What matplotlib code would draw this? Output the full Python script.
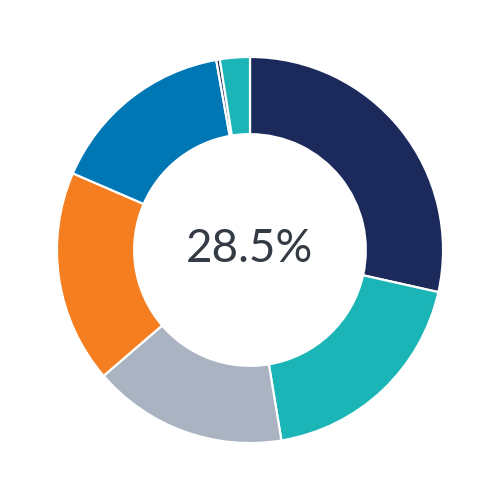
import matplotlib
matplotlib.use("Agg")
import matplotlib.pyplot as plt

labels = ["A", "B", "C", "D", "E", "F", "G"]
values = [28.5, 18.9, 16.3, 17.8, 15.7, 0.3, 2.5]
colors = ["#1b2a5b", "#1bb5b8", "#a9b3c1", "#f47e20", "#0077b5", "#1b2a5b", "#1bb5b8"]
center_text = "28.5%"

fig = plt.figure(figsize=(5, 5), dpi=100)
ax = fig.add_axes([0, 0, 1, 1])
ax.pie(values, colors=colors, startangle=90, counterclock=False, radius=1.0,
       wedgeprops=dict(width=0.40, edgecolor="white", linewidth=1.6))
ax.set_xlim(-1.295, 1.295)
ax.set_ylim(-1.295, 1.295)
ax.set_aspect("equal")
ax.axis("off")
ax.text(0, 0.005, center_text, ha="center", va="center", fontsize=33,
        family=["Lato", "DejaVu Sans"], fontweight="normal", color="#353b45")
fig.savefig("out.png", dpi=100, facecolor="white")
